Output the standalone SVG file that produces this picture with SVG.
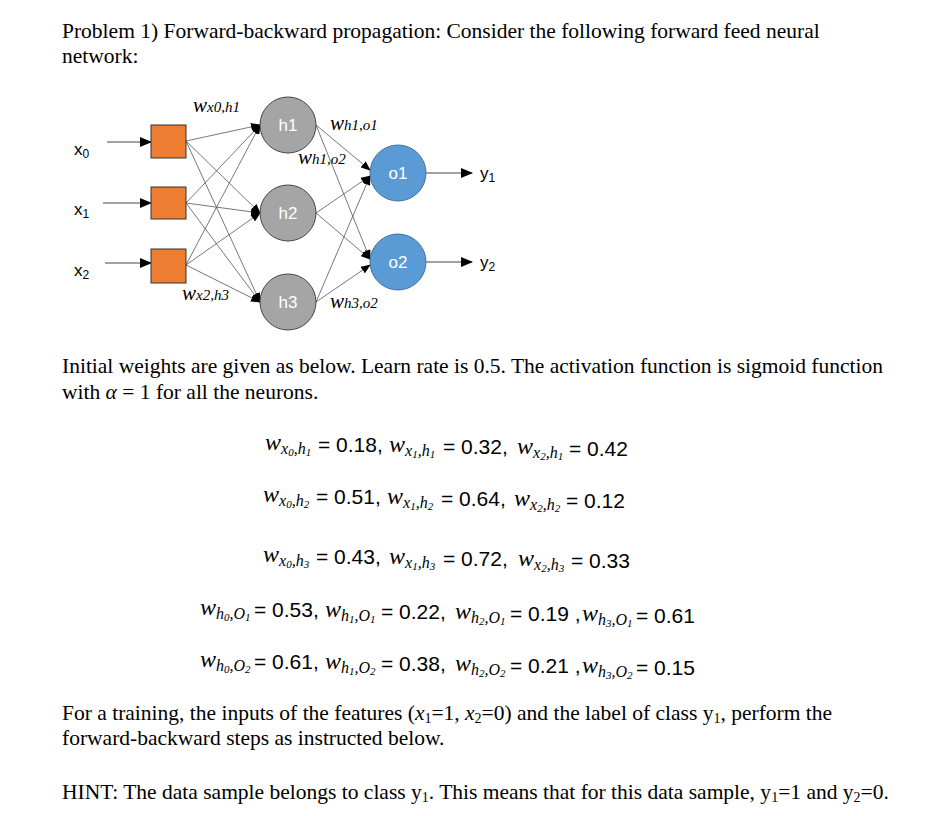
<svg xmlns="http://www.w3.org/2000/svg" width="926" height="816" viewBox="0 0 926 816">
<style>
.t{font-family:"Liberation Serif",serif;font-size:21.5px;fill:#000}
.m{font-family:"Liberation Serif",serif;font-style:italic;font-size:24px;fill:#000}
.s{font-size:16px}
.ss{font-size:11px}
.n{font-family:"Liberation Sans",sans-serif;font-style:normal;font-size:21px}
.lab{font-family:"Liberation Sans",sans-serif;font-size:17px;fill:#000}
.wl{font-family:"Liberation Serif",serif;font-style:italic;font-size:21px;fill:#000}
.wl tspan{font-size:15px}
.sq{fill:#ED7D31;stroke:#333;stroke-width:1}
.hc{fill:#A5A5A5;stroke:#444;stroke-width:1}
.oc{fill:#5B9BD5;stroke:#41719C;stroke-width:1}
.ct{font-family:"Liberation Sans",sans-serif;font-size:17px;fill:#fff;text-anchor:middle}
.e{stroke:#555;stroke-width:0.8;fill:none;marker-end:url(#a)}
.io{stroke:#444;stroke-width:1;fill:none;marker-end:url(#a2)}
</style>
<defs>
<marker id="a" markerWidth="10" markerHeight="8" refX="9" refY="4" orient="auto" markerUnits="userSpaceOnUse"><path d="M0,0 L10,4 L0,8 z" fill="#000"/></marker>
<marker id="a2" markerWidth="12" markerHeight="10" refX="11" refY="5" orient="auto" markerUnits="userSpaceOnUse"><path d="M0,0 L12,5 L0,10 z" fill="#000"/></marker>
</defs>
<rect width="926" height="816" fill="#fff"/>
<text class="t" x="62" y="38">Problem 1) Forward-backward propagation: Consider the following forward feed neural</text>
<text class="t" x="62" y="63">network:</text>

<g id="connectors">
<line class="io" x1="107" y1="142" x2="151" y2="142"/>
<line class="io" x1="103" y1="203" x2="151" y2="203"/>
<line class="io" x1="105" y1="263" x2="151" y2="263"/>
<line class="e" x1="186" y1="141" x2="260" y2="125"/>
<line class="e" x1="186" y1="141" x2="260" y2="213"/>
<line class="e" x1="186" y1="141" x2="260" y2="302"/>
<line class="e" x1="186" y1="203" x2="260" y2="125"/>
<line class="e" x1="186" y1="203" x2="260" y2="213"/>
<line class="e" x1="186" y1="203" x2="260" y2="302"/>
<line class="e" x1="186" y1="265" x2="260" y2="125"/>
<line class="e" x1="186" y1="265" x2="260" y2="213"/>
<line class="e" x1="186" y1="265" x2="260" y2="302"/>
<line class="e" x1="316" y1="125" x2="370" y2="170"/>
<line class="e" x1="316" y1="125" x2="370" y2="259"/>
<line class="e" x1="316" y1="213" x2="370" y2="176"/>
<line class="e" x1="316" y1="213" x2="370" y2="259"/>
<line class="e" x1="316" y1="302" x2="370" y2="176"/>
<line class="e" x1="316" y1="302" x2="370" y2="265"/>
<line class="io" x1="426" y1="173" x2="472" y2="173"/>
<line class="io" x1="426" y1="262" x2="472" y2="262"/>
</g>

<g id="x0"><text class="lab" x="74" y="155">x<tspan font-size="12" dy="3">0</tspan></text><rect class="sq" x="151" y="125" width="35" height="33"/></g>
<g id="x1"><text class="lab" x="74" y="215">x<tspan font-size="12" dy="3">1</tspan></text><rect class="sq" x="151" y="187" width="35" height="32"/></g>
<g id="x2"><text class="lab" x="74" y="276">x<tspan font-size="12" dy="3">2</tspan></text><rect class="sq" x="151" y="249" width="35" height="34"/></g>
<g id="h1"><circle class="hc" cx="288" cy="125" r="28"/><text class="ct" x="288" y="131">h1</text></g>
<g id="h2"><circle class="hc" cx="288" cy="213" r="28"/><text class="ct" x="288" y="219">h2</text></g>
<g id="h3"><circle class="hc" cx="288" cy="302" r="28"/><text class="ct" x="288" y="308">h3</text></g>
<g id="o1"><circle class="oc" cx="398" cy="173" r="28"/><text class="ct" x="398" y="179">o1</text></g>
<g id="o2"><circle class="oc" cx="398" cy="262" r="28"/><text class="ct" x="398" y="268">o2</text></g>
<g id="y1"><text class="lab" x="480" y="179">y<tspan font-size="12" dy="3">1</tspan></text></g>
<g id="y2"><text class="lab" x="480" y="268">y<tspan font-size="12" dy="3">2</tspan></text></g>

<text class="wl" x="193" y="112">w<tspan>x0,h1</tspan></text>
<text class="wl" x="330" y="130">w<tspan>h1,o1</tspan></text>
<text class="wl" x="298" y="164">w<tspan>h1,o2</tspan></text>
<text class="wl" x="182" y="300">w<tspan>x2,h3</tspan></text>
<text class="wl" x="330" y="308">w<tspan>h3,o2</tspan></text>

<text class="t" x="62" y="373">Initial weights are given as below. Learn rate is 0.5. The activation function is sigmoid function</text>
<text class="t" x="62" y="399">with <tspan font-style="italic">α</tspan> = 1 for all the neurons.</text>

<g class="m">
<text x="265" y="450">w<tspan class="s" dy="4">x</tspan><tspan class="ss" dy="2">0</tspan><tspan class="s" dy="-2">,h</tspan><tspan class="ss" dy="2">1</tspan><tspan class="n" x="318" dy="-4">= 0.18,</tspan><tspan x="389">w</tspan><tspan class="s" dy="4">x</tspan><tspan class="ss" dy="2">1</tspan><tspan class="s" dy="-2">,h</tspan><tspan class="ss" dy="2">1</tspan><tspan class="n" x="443" dy="-4">= 0.32,</tspan><tspan x="517">w</tspan><tspan class="s" dy="4">x</tspan><tspan class="ss" dy="2">2</tspan><tspan class="s" dy="-2">,h</tspan><tspan class="ss" dy="2">1</tspan><tspan class="n" x="569" dy="-4">=  0.42</tspan></text>
<text x="263" y="502">w<tspan class="s" dy="4">x</tspan><tspan class="ss" dy="2">0</tspan><tspan class="s" dy="-2">,h</tspan><tspan class="ss" dy="2">2</tspan><tspan class="n" x="316" dy="-4">= 0.51,</tspan><tspan x="387">w</tspan><tspan class="s" dy="4">x</tspan><tspan class="ss" dy="2">1</tspan><tspan class="s" dy="-2">,h</tspan><tspan class="ss" dy="2">2</tspan><tspan class="n" x="441" dy="-4">= 0.64,</tspan><tspan x="514">w</tspan><tspan class="s" dy="4">x</tspan><tspan class="ss" dy="2">2</tspan><tspan class="s" dy="-2">,h</tspan><tspan class="ss" dy="2">2</tspan><tspan class="n" x="566" dy="-4">=  0.12</tspan></text>
<text x="263" y="562">w<tspan class="s" dy="4">x</tspan><tspan class="ss" dy="2">0</tspan><tspan class="s" dy="-2">,h</tspan><tspan class="ss" dy="2">3</tspan><tspan class="n" x="316" dy="-4">= 0.43,</tspan><tspan x="389">w</tspan><tspan class="s" dy="4">x</tspan><tspan class="ss" dy="2">1</tspan><tspan class="s" dy="-2">,h</tspan><tspan class="ss" dy="2">3</tspan><tspan class="n" x="443" dy="-4">= 0.72,</tspan><tspan x="518">w</tspan><tspan class="s" dy="4">x</tspan><tspan class="ss" dy="2">2</tspan><tspan class="s" dy="-2">,h</tspan><tspan class="ss" dy="2">3</tspan><tspan class="n" x="571" dy="-4">=  0.33</tspan></text>
<text x="200" y="615">w<tspan class="s" dy="4">h</tspan><tspan class="ss" dy="2">0</tspan><tspan class="s" dy="-2">,O</tspan><tspan class="ss" dy="2">1</tspan><tspan class="n" x="254" dy="-4">= 0.53,</tspan><tspan x="325">w</tspan><tspan class="s" dy="4">h</tspan><tspan class="ss" dy="2">1</tspan><tspan class="s" dy="-2">,O</tspan><tspan class="ss" dy="2">1</tspan><tspan class="n" x="381" dy="-4">= 0.22,</tspan><tspan x="455">w</tspan><tspan class="s" dy="4">h</tspan><tspan class="ss" dy="2">2</tspan><tspan class="s" dy="-2">,O</tspan><tspan class="ss" dy="2">1</tspan><tspan class="n" x="510" dy="-4">=  0.19 ,</tspan><tspan x="582">w</tspan><tspan class="s" dy="4">h</tspan><tspan class="ss" dy="2">3</tspan><tspan class="s" dy="-2">,O</tspan><tspan class="ss" dy="2">1</tspan><tspan class="n" x="636" dy="-4">=  0.61</tspan></text>
<text x="200" y="667">w<tspan class="s" dy="4">h</tspan><tspan class="ss" dy="2">0</tspan><tspan class="s" dy="-2">,O</tspan><tspan class="ss" dy="2">2</tspan><tspan class="n" x="254" dy="-4">= 0.61,</tspan><tspan x="325">w</tspan><tspan class="s" dy="4">h</tspan><tspan class="ss" dy="2">1</tspan><tspan class="s" dy="-2">,O</tspan><tspan class="ss" dy="2">2</tspan><tspan class="n" x="381" dy="-4">= 0.38,</tspan><tspan x="455">w</tspan><tspan class="s" dy="4">h</tspan><tspan class="ss" dy="2">2</tspan><tspan class="s" dy="-2">,O</tspan><tspan class="ss" dy="2">2</tspan><tspan class="n" x="510" dy="-4">=  0.21 ,</tspan><tspan x="582">w</tspan><tspan class="s" dy="4">h</tspan><tspan class="ss" dy="2">3</tspan><tspan class="s" dy="-2">,O</tspan><tspan class="ss" dy="2">2</tspan><tspan class="n" x="636" dy="-4">=  0.15</tspan></text>
</g>

<text class="t" x="62" y="720">For a training, the inputs of the features (<tspan font-style="italic">x</tspan><tspan font-size="14" dy="3">1</tspan><tspan dy="-3">=1, </tspan><tspan font-style="italic">x</tspan><tspan font-size="14" dy="3">2</tspan><tspan dy="-3">=0) and the label of class y</tspan><tspan font-size="14" dy="3">1</tspan><tspan dy="-3">, perform the</tspan></text>
<text class="t" x="62" y="745">forward-backward steps as instructed below.</text>
<text class="t" x="62" y="799">HINT: The data sample belongs to class y<tspan font-size="14" dy="3">1</tspan><tspan dy="-3">. This means that for this data sample, y</tspan><tspan font-size="14" dy="3">1</tspan><tspan dy="-3">=1 and y</tspan><tspan font-size="14" dy="3">2</tspan><tspan dy="-3">=0.</tspan></text>
</svg>
